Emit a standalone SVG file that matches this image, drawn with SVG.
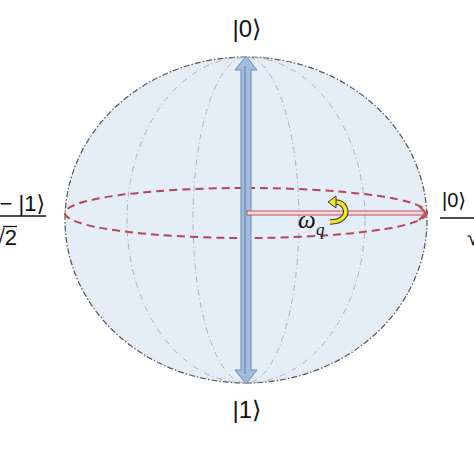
<svg xmlns="http://www.w3.org/2000/svg" width="474" height="474" viewBox="0 0 474 474">
<style>
.lbl{font-family:"Liberation Sans","DejaVu Sans",sans-serif;fill:#111}
.mer{fill:none;stroke:#a9b3bf;stroke-width:1;stroke-dasharray:6 3 1 3}
.frac{stroke:#111;stroke-width:1.5}
</style>
<rect width="474" height="474" fill="#fff"/>
<g id="sphere">
<ellipse cx="246" cy="220" rx="181" ry="163" fill="#e5edf7" stroke="#555" stroke-width="1.2" stroke-dasharray="6 2 1.5 2"/>
<ellipse class="mer" cx="246" cy="220" rx="119" ry="163"/>
<ellipse class="mer" cx="246" cy="220" rx="53" ry="163"/>
<ellipse cx="246" cy="213" rx="181" ry="25" fill="none" stroke="#b5475a" stroke-width="2" stroke-dasharray="8 5"/>
</g>
<g id="connectors">
<path d="M246,56 L257,70 L251,70 L251,370 L257,370 L246,384 L235,370 L241,370 L241,70 L235,70 Z" fill="#a3bcdb" stroke="#6a8bb3" stroke-width="1"/>
<line x1="245" y1="66" x2="245" y2="374" stroke="#7593ba" stroke-width="1.5"/>
<rect x="247" y="211" width="177" height="4" fill="#f3d8dc" stroke="#c0505e" stroke-width="1"/>
<path d="M419,206 L426,213 L419,220" fill="none" stroke="#c0505e" stroke-width="2"/>
<g id="rotation">
<path d="M330,222 C342,222 348,215 345,208 C343,203 339,202 335,202" fill="none" stroke="#3a3a2a" stroke-width="5.5"/>
<path d="M330,222 C342,222 348,215 345,208 C343,203 339,202 335,202" fill="none" stroke="#f2e52a" stroke-width="3.5"/>
<polygon points="328,202 336,196 336,208" fill="#f2e52a" stroke="#3a3a2a" stroke-width="1"/>
</g>
</g>
<g id="label-top"><text class="lbl" x="247" y="37" font-size="24" text-anchor="middle">|0⟩</text></g>
<g id="label-bottom"><text class="lbl" x="247" y="418" font-size="24" text-anchor="middle">|1⟩</text></g>
<g id="label-left">
<text class="lbl" x="45" y="211" font-size="22" text-anchor="end">− |1⟩</text>
<line class="frac" x1="0" y1="216" x2="46" y2="216"/>
<text class="lbl" x="17" y="245" font-size="22" text-anchor="end">√2</text>
<line x1="3" y1="226.5" x2="17" y2="226.5" stroke="#111" stroke-width="1.3"/>
</g>
<g id="label-right">
<text class="lbl" x="442" y="207" font-size="20">|0⟩</text>
<line class="frac" x1="440" y1="218" x2="474" y2="218"/>
<text class="lbl" x="467" y="245" font-size="22">√2</text>
</g>
<g id="label-omega">
<text x="298" y="228" font-size="25" font-style="italic" font-family="'Liberation Serif','DejaVu Serif',serif" fill="#111">ω</text>
<text x="316" y="235" font-size="17" font-style="italic" font-family="'Liberation Serif','DejaVu Serif',serif" fill="#111">q</text>
</g>
</svg>
